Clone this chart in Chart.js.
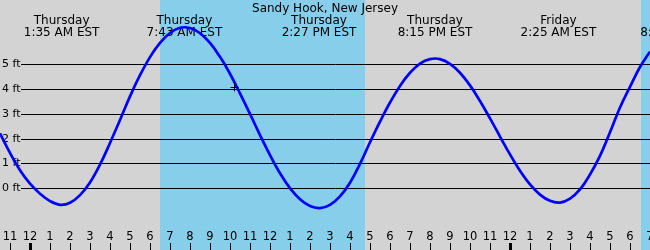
<!DOCTYPE html>
<html>
<head>
<meta charset="utf-8">
<script src="https://cdn.jsdelivr.net/npm/chart.js@4"></script>
<style>
  body { margin: 0; background: #d3d3d3; }
  canvas { display: block; }
</style>
</head>
<body>
<canvas id="tideChart" width="650" height="250"></canvas>
<script>
// hours since Thursday midnight (half-hour steps), tide height in feet
var hours = [-1.5, -1, -0.5, 0, 0.5, 1, 1.5, 2, 2.5, 3, 3.5, 4, 4.5, 5, 5.5, 6, 6.5, 7, 7.5, 8, 8.5, 9, 9.5, 10, 10.5, 11, 11.5, 12, 12.5, 13, 13.5, 14, 14.5, 15, 15.5, 16, 16.5, 17, 17.5, 18, 18.5, 19, 19.5, 20, 20.5, 21, 21.5, 22, 22.5, 23, 23.5, 24, 24.5, 25, 25.5, 26, 26.5, 27, 27.5, 28, 28.5, 29, 29.5, 30, 30.5, 31];
var heights = [2.21, 1.42, 0.72, 0.18, -0.22, -0.52, -0.67, -0.59, -0.28, 0.23, 0.95, 1.82, 2.75, 3.7, 4.55, 5.28, 5.85, 6.25, 6.46, 6.45, 6.24, 5.85, 5.29, 4.61, 3.82, 2.99, 2.14, 1.33, 0.6, 0.0, -0.45, -0.72, -0.8, -0.67, -0.33, 0.22, 0.98, 1.85, 2.68, 3.45, 4.12, 4.65, 5.02, 5.2, 5.2, 5.01, 4.65, 4.14, 3.51, 2.81, 2.08, 1.36, 0.7, 0.15, -0.26, -0.51, -0.58, -0.42, -0.05, 0.55, 1.3, 2.25, 3.25, 4.08, 4.88, 5.5];

var tideTimes = [1.58, 7.72, 14.45, 20.25, 26.42, 32.4];
var tideDays = ['Thursday', 'Thursday', 'Thursday', 'Thursday', 'Friday', 'Friday'];
var tideLabels = ['1:35 AM EST', '7:43 AM EST', '2:27 PM EST', '8:15 PM EST', '2:25 AM EST', '8:24 AM EST'];

var dayStart = [6.5, 30.55];
var dayEnd = [16.75, 31];

var levels = [0, 1, 2, 3, 4, 5];
var levelLabels = ['0 ft', '1 ft', '2 ft', '3 ft', '4 ft', '5 ft'];

var tickHours = [-1, 0, 1, 2, 3, 4, 5, 6, 7, 8, 9, 10, 11, 12, 13, 14, 15, 16, 17, 18, 19, 20, 21, 22, 23, 24, 25, 26, 27, 28, 29, 30, 31];
var tickLabels = ['11', '12', '1', '2', '3', '4', '5', '6', '7', '8', '9', '10', '11', '12', '1', '2', '3', '4', '5', '6', '7', '8', '9', '10', '11', '12', '1', '2', '3', '4', '5', '6', '7'];
var midnights = [0, 24];

var nowHour = 10.22;
var nowHeight = 4.09;

var title = 'Sandy Hook, New Jersey';

var points = [];
for (let i in hours) {
    points.push({ x: hours[i], y: heights[i] });
}

var tideDecor = {
    id: 'tideDecor',
    beforeDatasetsDraw: function(chart) {
        var c = chart.ctx;
        var xs = chart.scales.x;
        var ys = chart.scales.y;
        var area = chart.chartArea;
        c.save();
        // night background
        c.fillStyle = '#d3d3d3';
        c.fillRect(area.left, area.top, area.right - area.left, area.bottom - area.top);
        // daylight bands
        c.fillStyle = '#87ceeb';
        for (let i in dayStart) {
            var x0 = xs.getPixelForValue(dayStart[i]);
            var x1 = xs.getPixelForValue(dayEnd[i]);
            c.fillRect(x0, area.top, x1 - x0, area.bottom - area.top);
        }
        // height lines and labels
        c.strokeStyle = '#000';
        c.lineWidth = 1;
        c.fillStyle = '#000';
        c.font = '11px "DejaVu Sans"';
        c.textAlign = 'left';
        c.textBaseline = 'middle';
        for (let i in levels) {
            var y = Math.round(ys.getPixelForValue(levels[i])) + 0.5;
            c.beginPath();
            c.moveTo(21, y);
            c.lineTo(area.right, y);
            c.stroke();
            c.fillText(levelLabels[i], 2, y);
        }
        // hour ticks
        c.textAlign = 'center';
        c.textBaseline = 'alphabetic';
        c.font = '11.5px "DejaVu Sans"';
        for (let i in tickHours) {
            var x = Math.round(xs.getPixelForValue(tickHours[i]));
            var w = midnights.indexOf(tickHours[i]) >= 0 ? 3 : 1;
            c.fillRect(x - Math.floor(w / 2), 243, w, 7);
            c.fillText(tickLabels[i], x, 240);
        }
        // high / low labels
        c.font = '12px "DejaVu Sans"';
        for (let i in tideTimes) {
            var tx = xs.getPixelForValue(tideTimes[i]);
            c.fillText(tideDays[i], tx, 24);
            c.fillText(tideLabels[i], tx, 36);
        }
        c.fillText(title, 325, 12);
        c.restore();
    },
    afterDatasetsDraw: function(chart) {
        var c = chart.ctx;
        var px = Math.round(chart.scales.x.getPixelForValue(nowHour)) + 0.5;
        var py = Math.round(chart.scales.y.getPixelForValue(nowHeight)) + 0.5;
        c.save();
        c.strokeStyle = '#000';
        c.lineWidth = 1;
        c.beginPath();
        c.moveTo(px - 4, py);
        c.lineTo(px + 4, py);
        c.moveTo(px, py - 4);
        c.lineTo(px, py + 4);
        c.stroke();
        c.restore();
    }
};

var tideChart = new Chart(document.getElementById('tideChart').getContext('2d'), {
    type: 'line',
    data: {
        datasets: [{
            data: points,
            borderColor: '#0000ff',
            borderWidth: 2.7,
            pointRadius: 0,
            fill: false,
            tension: 0.4
        }]
    },
    options: {
        responsive: false,
        animation: false,
        layout: { padding: 0 },
        plugins: {
            legend: { display: false },
            tooltip: { enabled: false }
        },
        scales: {
            x: { type: 'linear', min: -1.5, max: 31, display: false },
            y: { type: 'linear', min: -2.49, max: 7.58, display: false }
        }
    },
    plugins: [tideDecor]
});
</script>
</body>
</html>
